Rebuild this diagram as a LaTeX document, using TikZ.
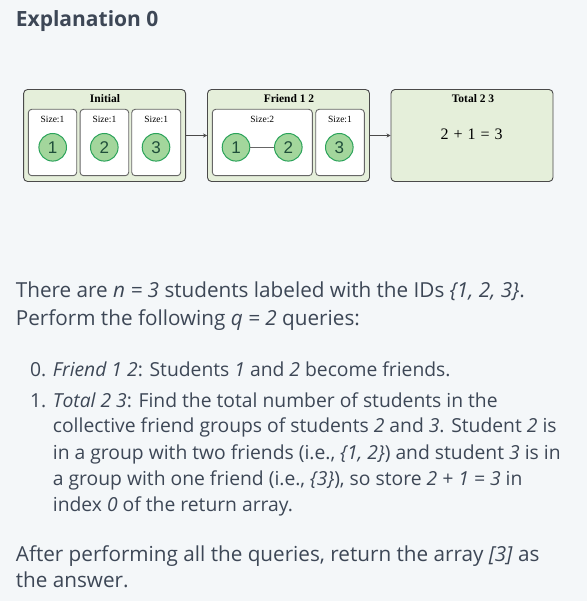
\documentclass[tikz,border=0pt]{standalone}
\usepackage{fontspec}
\setmainfont{Open Sans}
\newfontfamily\serifdiag{Liberation Serif}
\newfontfamily\sansdiag{Liberation Sans}
\usetikzlibrary{arrows.meta}
\definecolor{bg}{HTML}{F4F7F9}
\definecolor{txt}{HTML}{3D4756}
\definecolor{outerfill}{HTML}{E5EFDA}
\definecolor{boxline}{HTML}{4A4A4A}
\definecolor{innerline}{HTML}{666666}
\definecolor{circfill}{HTML}{A3D69C}
\definecolor{circline}{HTML}{2BA35A}
\definecolor{circtxt}{HTML}{1F4E3A}
\begin{document}
\begin{tikzpicture}[x=1pt,y=-1pt,
  outerbox/.style={draw=boxline,fill=outerfill,rounded corners=4pt,line width=0.9pt,
    minimum width=162pt,minimum height=92pt,inner sep=0pt},
  innerbox/.style={draw=innerline,fill=white,rounded corners=3.5pt,line width=0.9pt,
    minimum height=66.4pt,inner sep=0pt},
  titletext/.style={font=\serifdiag\bfseries\fontsize{11.5}{12}\selectfont,text=black,inner sep=0pt},
  sizetext/.style={font=\serifdiag\fontsize{9.5}{10}\selectfont,text=black,inner sep=0pt},
  student/.style={circle,draw=circline,fill=circfill,line width=1pt,minimum size=27.6pt,inner sep=0pt,
    font=\sansdiag\fontsize{17}{17}\selectfont,text=circtxt},
  flow/.style={draw=boxline,line width=0.7pt,-{Stealth[length=4pt,width=4pt]}},
  body/.style={anchor=base west,inner sep=0pt,text=txt,font=\fontsize{20.7}{24}\selectfont},
  listtext/.style={anchor=base west,inner sep=0pt,text=txt,font=\fontsize{19.3}{22}\selectfont}
]
\fill[bg] (0,0) rectangle (587,601);
\useasboundingbox (0,0) rectangle (587,601);

\node[anchor=base west,inner sep=0pt,text=txt,font=\bfseries\fontsize{21}{24}\selectfont] (head) at (15.7,26.7) {Explanation 0};

% Initial
\node[outerbox] (init) at (104.6,135.5) {};
\node[titletext] (initT) at (105,99) {Initial};
\node[innerbox,minimum width=48.4pt] (b1) at (52.5,142.5) {};
\node[innerbox,minimum width=48.7pt] (b2) at (104.4,142.5) {};
\node[innerbox,minimum width=49pt] (b3) at (156.2,142.5) {};
\node[sizetext] (s1) at (52.5,119.3) {Size:1};
\node[sizetext] (s2) at (104.4,119.3) {Size:1};
\node[sizetext] (s3) at (156.2,119.3) {Size:1};
\node[student] (c1) at (52.7,147.3) {1};
\node[student] (c2) at (104.3,147.3) {2};
\node[student] (c3) at (156,147.3) {3};

% Friend 1 2
\node[outerbox] (fr) at (288.5,135.5) {};
\node[titletext] (frT) at (289,99) {Friend 1 2};
\node[innerbox,minimum width=100pt] (fa) at (262.3,142.5) {};
\node[innerbox,minimum width=48.6pt] (fb) at (340,142.5) {};
\node[sizetext] (sa) at (262.3,119.3) {Size:2};
\node[sizetext] (sb) at (340,119.3) {Size:1};
\node[student] (d1) at (236,147.3) {1};
\node[student] (d2) at (288.3,147.3) {2};
\node[student] (d3) at (339.3,147.3) {3};
\draw[innerline,line width=0.9pt] (d1) -- (d2);

% Total 2 3
\node[outerbox] (tot) at (472,135.5) {};
\node[titletext] (totT) at (473,99) {Total 2 3};
\node[inner sep=0pt,font=\serifdiag\fontsize{16}{16}\selectfont,text=black] (eq) at (471.7,134.3)
  {2\hspace{5pt}+\hspace{5pt}1\hspace{5pt}=\hspace{5pt}3};

\draw[flow] (init.east) -- (fr.west);
\draw[flow] (fr.east) -- (tot.west);

% Text
\node[body] (p1) at (15.7,297.7) {There are \textit{n = 3} students labeled with the IDs \textit{\{1, 2, 3\}}.};
\node[body] (p2) at (15.7,325) {Perform the following \textit{q = 2} queries:};

\node[listtext] (n0) at (30,376.7) {0.};
\node[listtext] (l0) at (52.7,376.7) {\textit{Friend 1 2}: Students \textit{1} and \textit{2} become friends.};
\node[listtext] (n1) at (30,407.3) {1.};
\node[listtext] (l1) at (52.7,407.3) {\textit{Total 2 3}: Find the total number of students in the};
\node[listtext] (l2) at (52.7,432.7) {collective friend groups of students \textit{2} and \textit{3}. Student \textit{2} is};
\node[listtext] (l3) at (52.7,459.3) {in a group with two friends (i.e., \textit{\{1, 2\}}) and student \textit{3} is in};
\node[listtext] (l4) at (52.7,485) {a group with one friend (i.e., \textit{\{3\}}), so store \textit{2 + 1 = 3} in};
\node[listtext] (l5) at (52.7,511.7) {index \textit{0} of the return array.};

\node[body] (p3) at (15.7,561.7) {After performing all the queries, return the array \textit{[3]} as};
\node[body] (p4) at (15.7,587.3) {the answer.};
\end{tikzpicture}
\end{document}
